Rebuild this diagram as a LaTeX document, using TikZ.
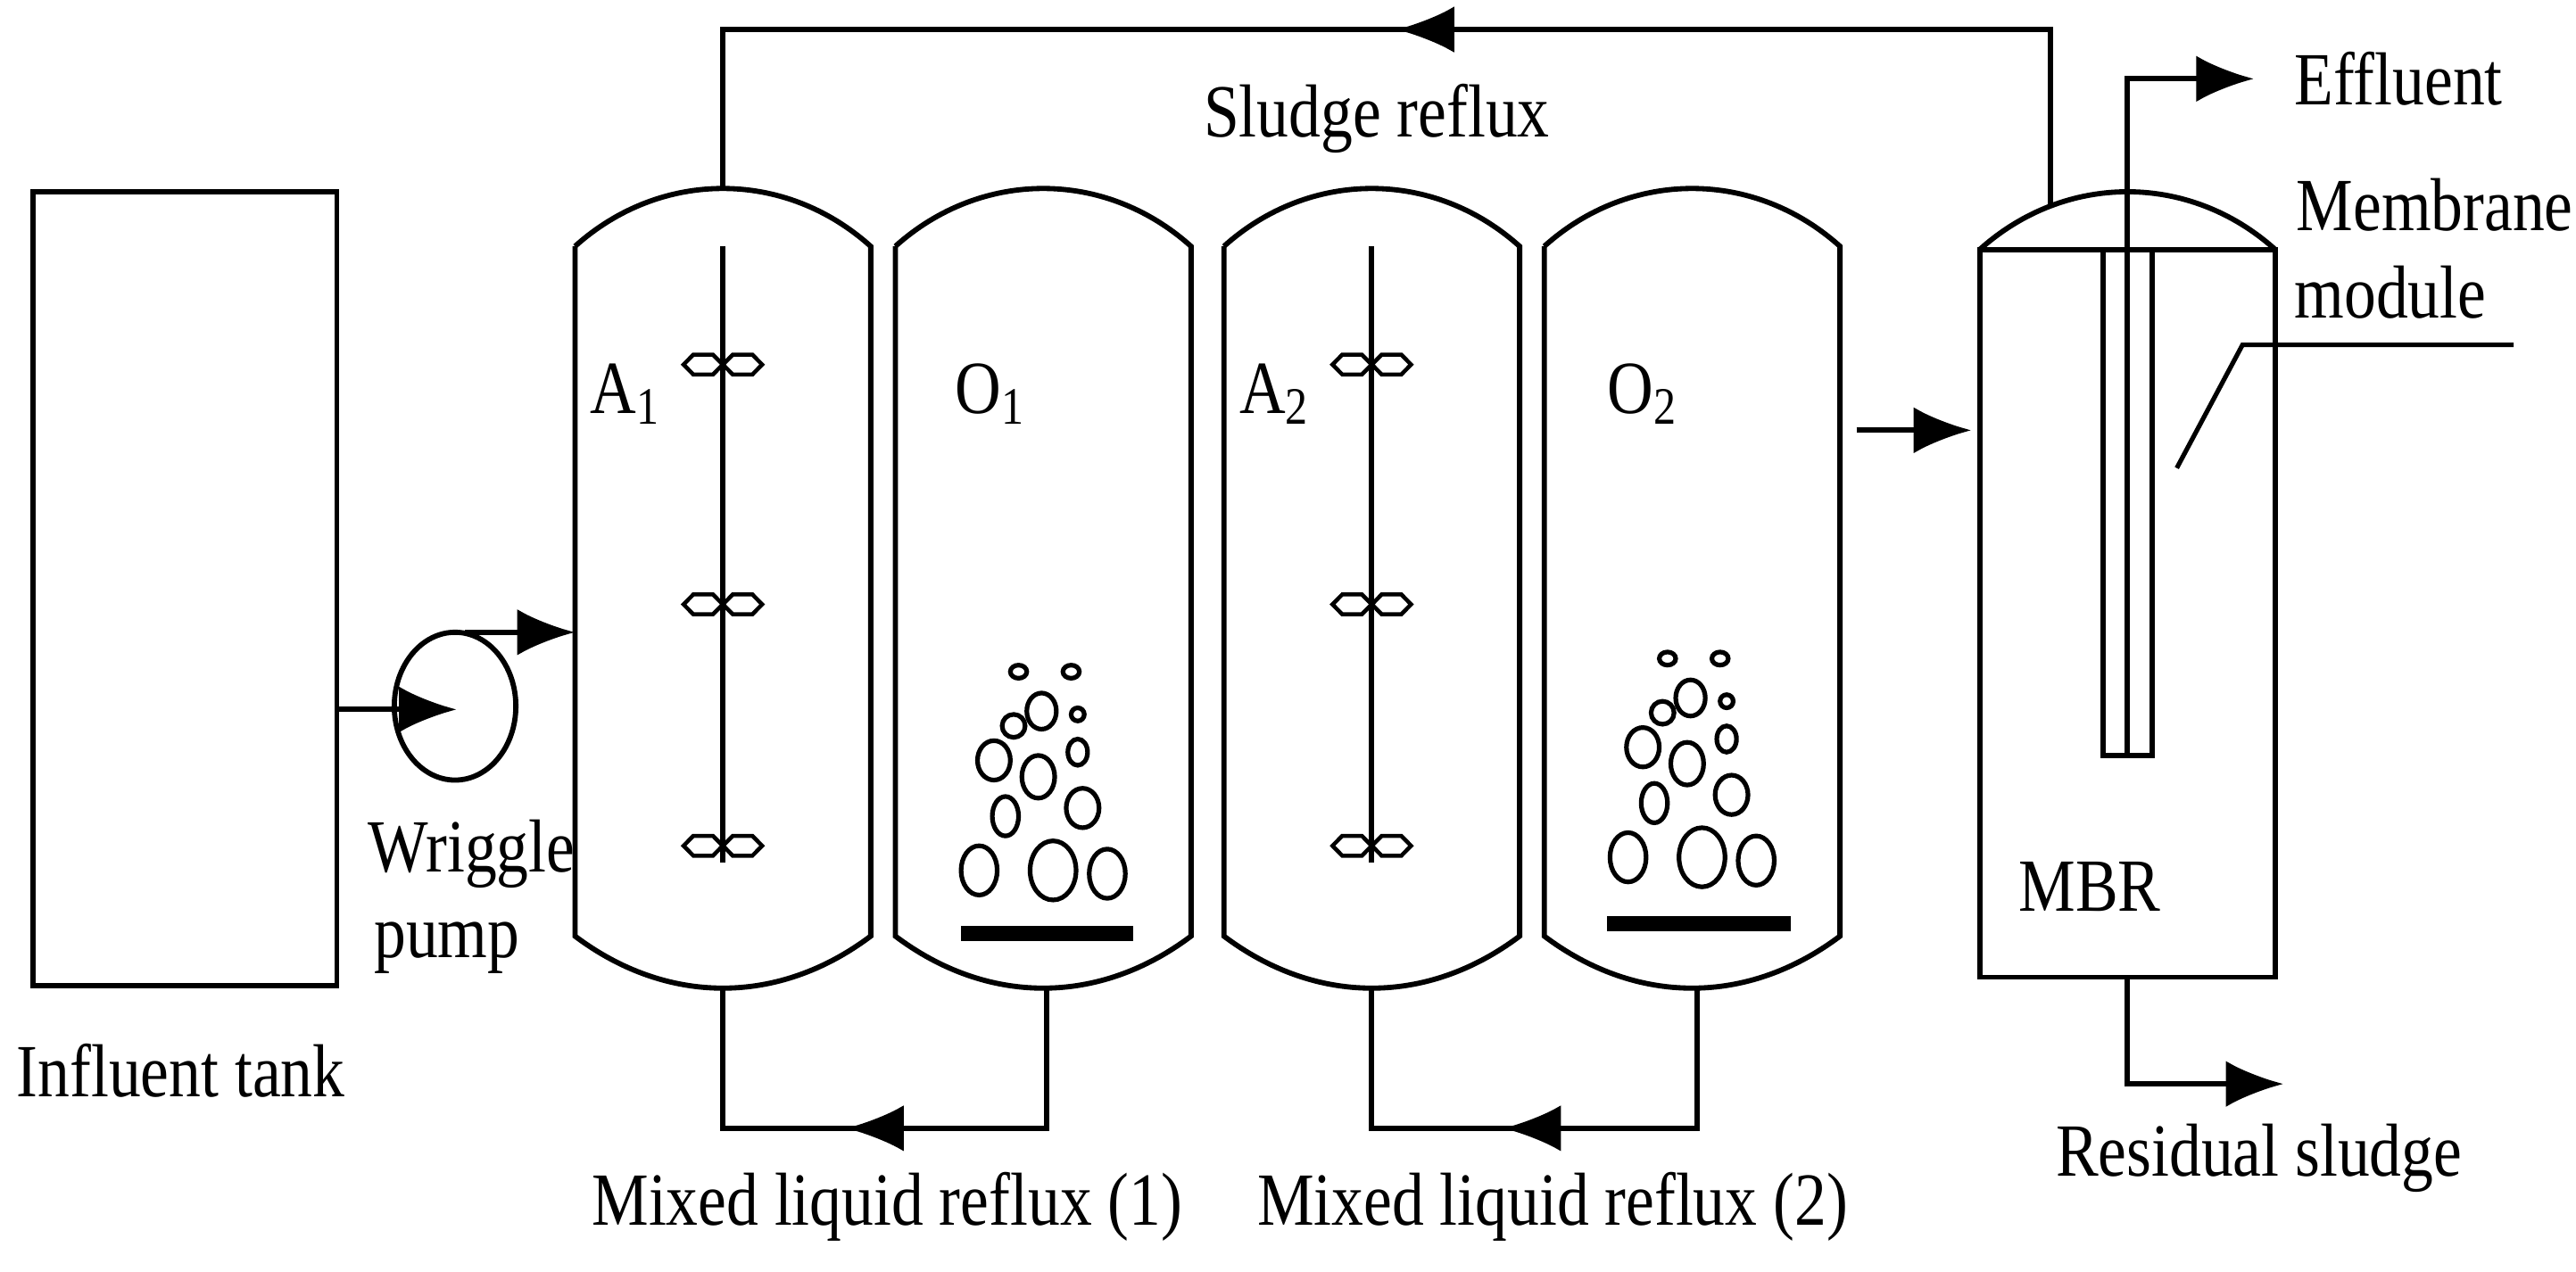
\documentclass[tikz,border=0pt]{standalone}
\usepackage{fontspec}
\setmainfont{Liberation Serif}
\usetikzlibrary{arrows.meta,shapes.geometric}
\begin{document}
\begin{tikzpicture}[x=0.01cm,y=-0.01cm,line width=0.9pt,
  lbl/.style={inner sep=0pt,font=\rmfamily\fontsize{13}{15}\selectfont,xscale=0.85,transform shape},
  arr/.style={-{Latex[length=10pt,width=8pt]}},
  imp/.style={regular polygon,regular polygon sides=6,draw,minimum width=0.14cm,xscale=1.7,inner sep=0pt,line width=0.7pt},
  bub/.style={line width=0.8pt}]
\useasboundingbox (0,0) rectangle (1568,774);
% influent tank
\draw (20,117) rectangle (205,600);
\node[lbl] (tl) at (110,652) {Influent tank};
% pump
\draw (277,430) ellipse [x radius=37,y radius=45];
\coordinate (tankout) at (205,432);
\coordinate (pin) at (278,432);
\draw[arr] (tankout) -- (pin);
\coordinate (pout) at (283,385);
\coordinate (a1in) at (350,385);
\draw[arr] (pout) -- (a1in);
\node[lbl] at (287,520) {Wriggle};
\node[lbl] at (272,577) {pump};
% tanks
\foreach \xa in {350,545,745,940}{
  \draw (\xa,150) -- (\xa,570) to[bend right=37] (\xa+180,570) -- (\xa+180,150) to[bend right=42] (\xa,150);
}
\node[lbl] at (381,240) {A\textsubscript{1}};
\node[lbl] at (603,240) {O\textsubscript{1}};
\node[lbl] at (776,240) {A\textsubscript{2}};
\node[lbl] at (1000,240) {O\textsubscript{2}};
% mixers
\foreach \xs in {440,835}{
  \draw (\xs,150) -- (\xs,525);
  \foreach \yy in {222,368,515}{
    \node[imp] at (\xs-12,\yy) {};
    \node[imp] at (\xs+12,\yy) {};
  }
}
% bubbles
\foreach \dx/\dy in {0/0,395/-8}{
\begin{scope}[shift={(\dx,\dy)}]
\foreach \cx/\cy/\rx/\ry in {620/409/5/4,652/409/5/4,634/433/9/11,617/442/7/7,656/435/4/4,605/463/10/12,656/458/6/8,632/473/10/13,612/497/8/12,659/492/10/12,596/530/11/15,641/530/14/18,674/532/11/15}
  \draw[bub] (\cx,\cy) ellipse [x radius=\rx,y radius=\ry];
\end{scope}
}
\fill (585,564) rectangle (690,573);
\fill (978,558) rectangle (1090,567);
% MBR
\draw (1205,152) rectangle (1385,595);
\draw (1205,152) to[bend left=42] (1385,152);
\draw (1280,152) -- (1280,460) -- (1310,460) -- (1310,152);
\node[lbl] at (1272,540) {MBR};
% effluent
\coordinate (memb) at (1295,460);
\coordinate (effc) at (1295,48);
\coordinate (effo) at (1372,48);
\draw[arr] (memb) -- (effc) -- (effo);
\node[lbl] (eff) at (1460,48) {Effluent};
% membrane label
\node[lbl] at (1482,125) {Membrane};
\node[lbl] at (1455,178) {module};
\draw[line width=0.8pt] (1325,285) -- (1365,210) -- (1530,210);
% O2 to MBR
\coordinate (o2out) at (1130,262);
\coordinate (mbrin) at (1200,262);
\draw[arr] (o2out) -- (mbrin);
% sludge reflux
\coordinate (s1) at (1248,125);
\coordinate (s2) at (1248,18);
\coordinate (s3) at (440,18);
\coordinate (s4) at (440,115);
\draw (s1) -- (s2) -- (s3) -- (s4);
\draw[arr] (900,18) -- (850,18);
\node[lbl] at (838,72) {Sludge reflux};
% residual sludge
\coordinate (r1) at (1295,595);
\coordinate (r2) at (1295,660);
\coordinate (r3) at (1390,660);
\draw[arr] (r1) -- (r2) -- (r3);
\node[lbl] at (1375,705) {Residual sludge};
% mixed liquid reflux
\draw (637,600) -- (637,687) -- (440,687) -- (440,600);
\draw[arr] (560,687) -- (515,687);
\node[lbl] at (540,735) {Mixed liquid reflux (1)};
\draw (1033,600) -- (1033,687) -- (835,687) -- (835,600);
\draw[arr] (960,687) -- (915,687);
\node[lbl] at (945,735) {Mixed liquid reflux (2)};
\end{tikzpicture}
\end{document}
